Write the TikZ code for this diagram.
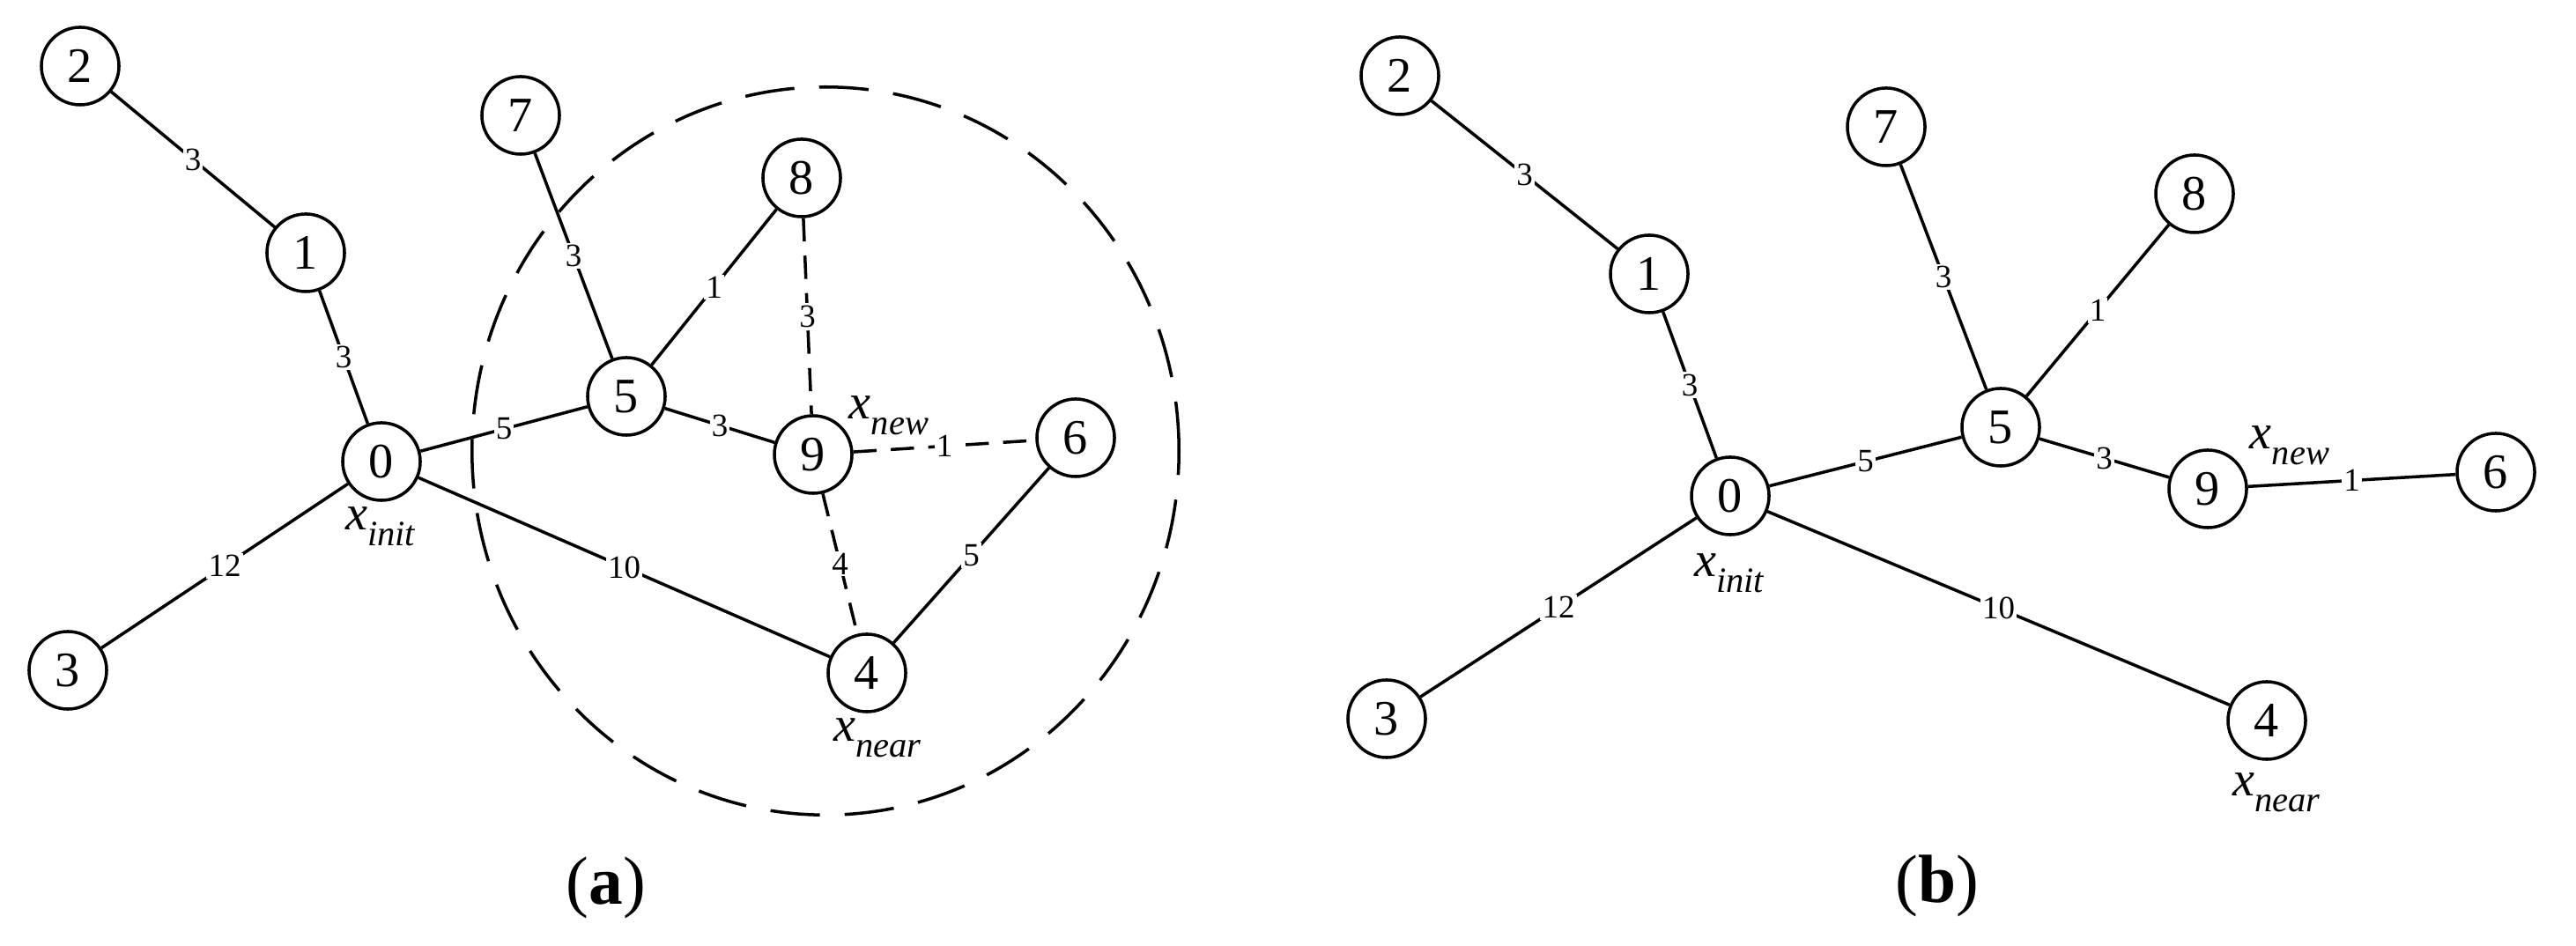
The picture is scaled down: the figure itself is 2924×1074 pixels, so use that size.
\documentclass[tikz,border=0pt]{standalone}
\usepackage{fontspec}
\setmainfont{Liberation Serif}
\newcommand\xsub[2]{\textit{#1}\raisebox{-0.32em}{\fontsize{11.5}{11.5}\selectfont\textit{#2}}}
\begin{document}
\begin{tikzpicture}[x=0.01cm,y=-0.01cm,
  vtx/.style={circle,draw,line width=1pt,minimum size=0.88cm,inner sep=0pt,font=\fontsize{16}{16}\selectfont},
  edge/.style={line width=1pt},
  dedge/.style={line width=1pt,dash pattern=on 7.5pt off 4.6pt},
  wt/.style={fill=white,inner sep=0.6pt,font=\fontsize{10.5}{10.5}\selectfont},
  tag/.style={inner sep=0pt,font=\fontsize{16}{16}\selectfont},
  captext/.style={inner sep=0pt,font=\fontsize{22}{22}\selectfont}]
\useasboundingbox (0,0) rectangle (2924,1074);

% ---------- panel (a) ----------
\draw[line width=1pt,dash pattern=on 16pt off 8pt] (937,512) ellipse [x radius=4.01cm, y radius=4.13cm];

\node[vtx] (a0) at (433,524) {0};
\node[vtx] (a1) at (347,287) {1};
\node[vtx] (a2) at (91,75) {2};
\node[vtx] (a3) at (77,761) {3};
\node[vtx] (a4) at (984,764) {4};
\node[vtx] (a5) at (711,450) {5};
\node[vtx] (a6) at (1221,497) {6};
\node[vtx] (a7) at (591,131) {7};
\node[vtx] (a8) at (910,202) {8};
\node[vtx] (a9) at (923,516) {9};

\node[tag] (ainit) at (432,598) {\xsub{x}{init}};
\node[tag] (anew) at (1009,472) {\xsub{x}{new}};
\node[tag] (anear) at (996,838) {\xsub{x}{near}};

\draw[edge] (a2) -- node[wt] {3} (a1);
\draw[edge] (a1) -- node[wt] {3} (a0);
\draw[edge] (a0) -- node[wt] {12} (a3);
\draw[edge] (a0) -- node[wt] {5} (a5);
\draw[edge] (a7) -- node[wt] {3} (a5);
\draw[edge] (a5) -- node[wt] {1} (a8);
\draw[edge] (a5) -- node[wt] {3} (a9);
\draw[edge] (a0) -- node[wt] {10} (a4);
\draw[edge] (a6) -- node[wt] {5} (a4);
\draw[dedge] (a8) -- node[wt] {3} (a9);
\draw[dedge] (a9) -- node[wt] {1} (a6);
\draw[dedge] (a9) -- node[wt] {4} (a4);

\node[captext] (capa) at (688,1008) {(\textbf{a})};

% ---------- panel (b) ----------
\node[vtx] (b0) at (1964,563) {0};
\node[vtx] (b1) at (1872,311) {1};
\node[vtx] (b2) at (1589,86) {2};
\node[vtx] (b3) at (1574,816) {3};
\node[vtx] (b4) at (2573,818) {4};
\node[vtx] (b5) at (2271,485) {5};
\node[vtx] (b6) at (2833,536) {6};
\node[vtx] (b7) at (2141,144) {7};
\node[vtx] (b8) at (2491,220) {8};
\node[vtx] (b9) at (2506,555) {9};

\node[tag] (binit) at (1963,651) {\xsub{x}{init}};
\node[tag] (bnew) at (2599,506) {\xsub{x}{new}};
\node[tag] (bnear) at (2584,900) {\xsub{x}{near}};

\draw[edge] (b2) -- node[wt] {3} (b1);
\draw[edge] (b1) -- node[wt] {3} (b0);
\draw[edge] (b0) -- node[wt] {12} (b3);
\draw[edge] (b0) -- node[wt] {5} (b5);
\draw[edge] (b7) -- node[wt] {3} (b5);
\draw[edge] (b5) -- node[wt] {1} (b8);
\draw[edge] (b5) -- node[wt] {3} (b9);
\draw[edge] (b9) -- node[wt] {1} (b6);
\draw[edge] (b0) -- node[wt] {10} (b4);

\node[captext] (capb) at (2199,1006) {(\textbf{b})};
\end{tikzpicture}
\end{document}
